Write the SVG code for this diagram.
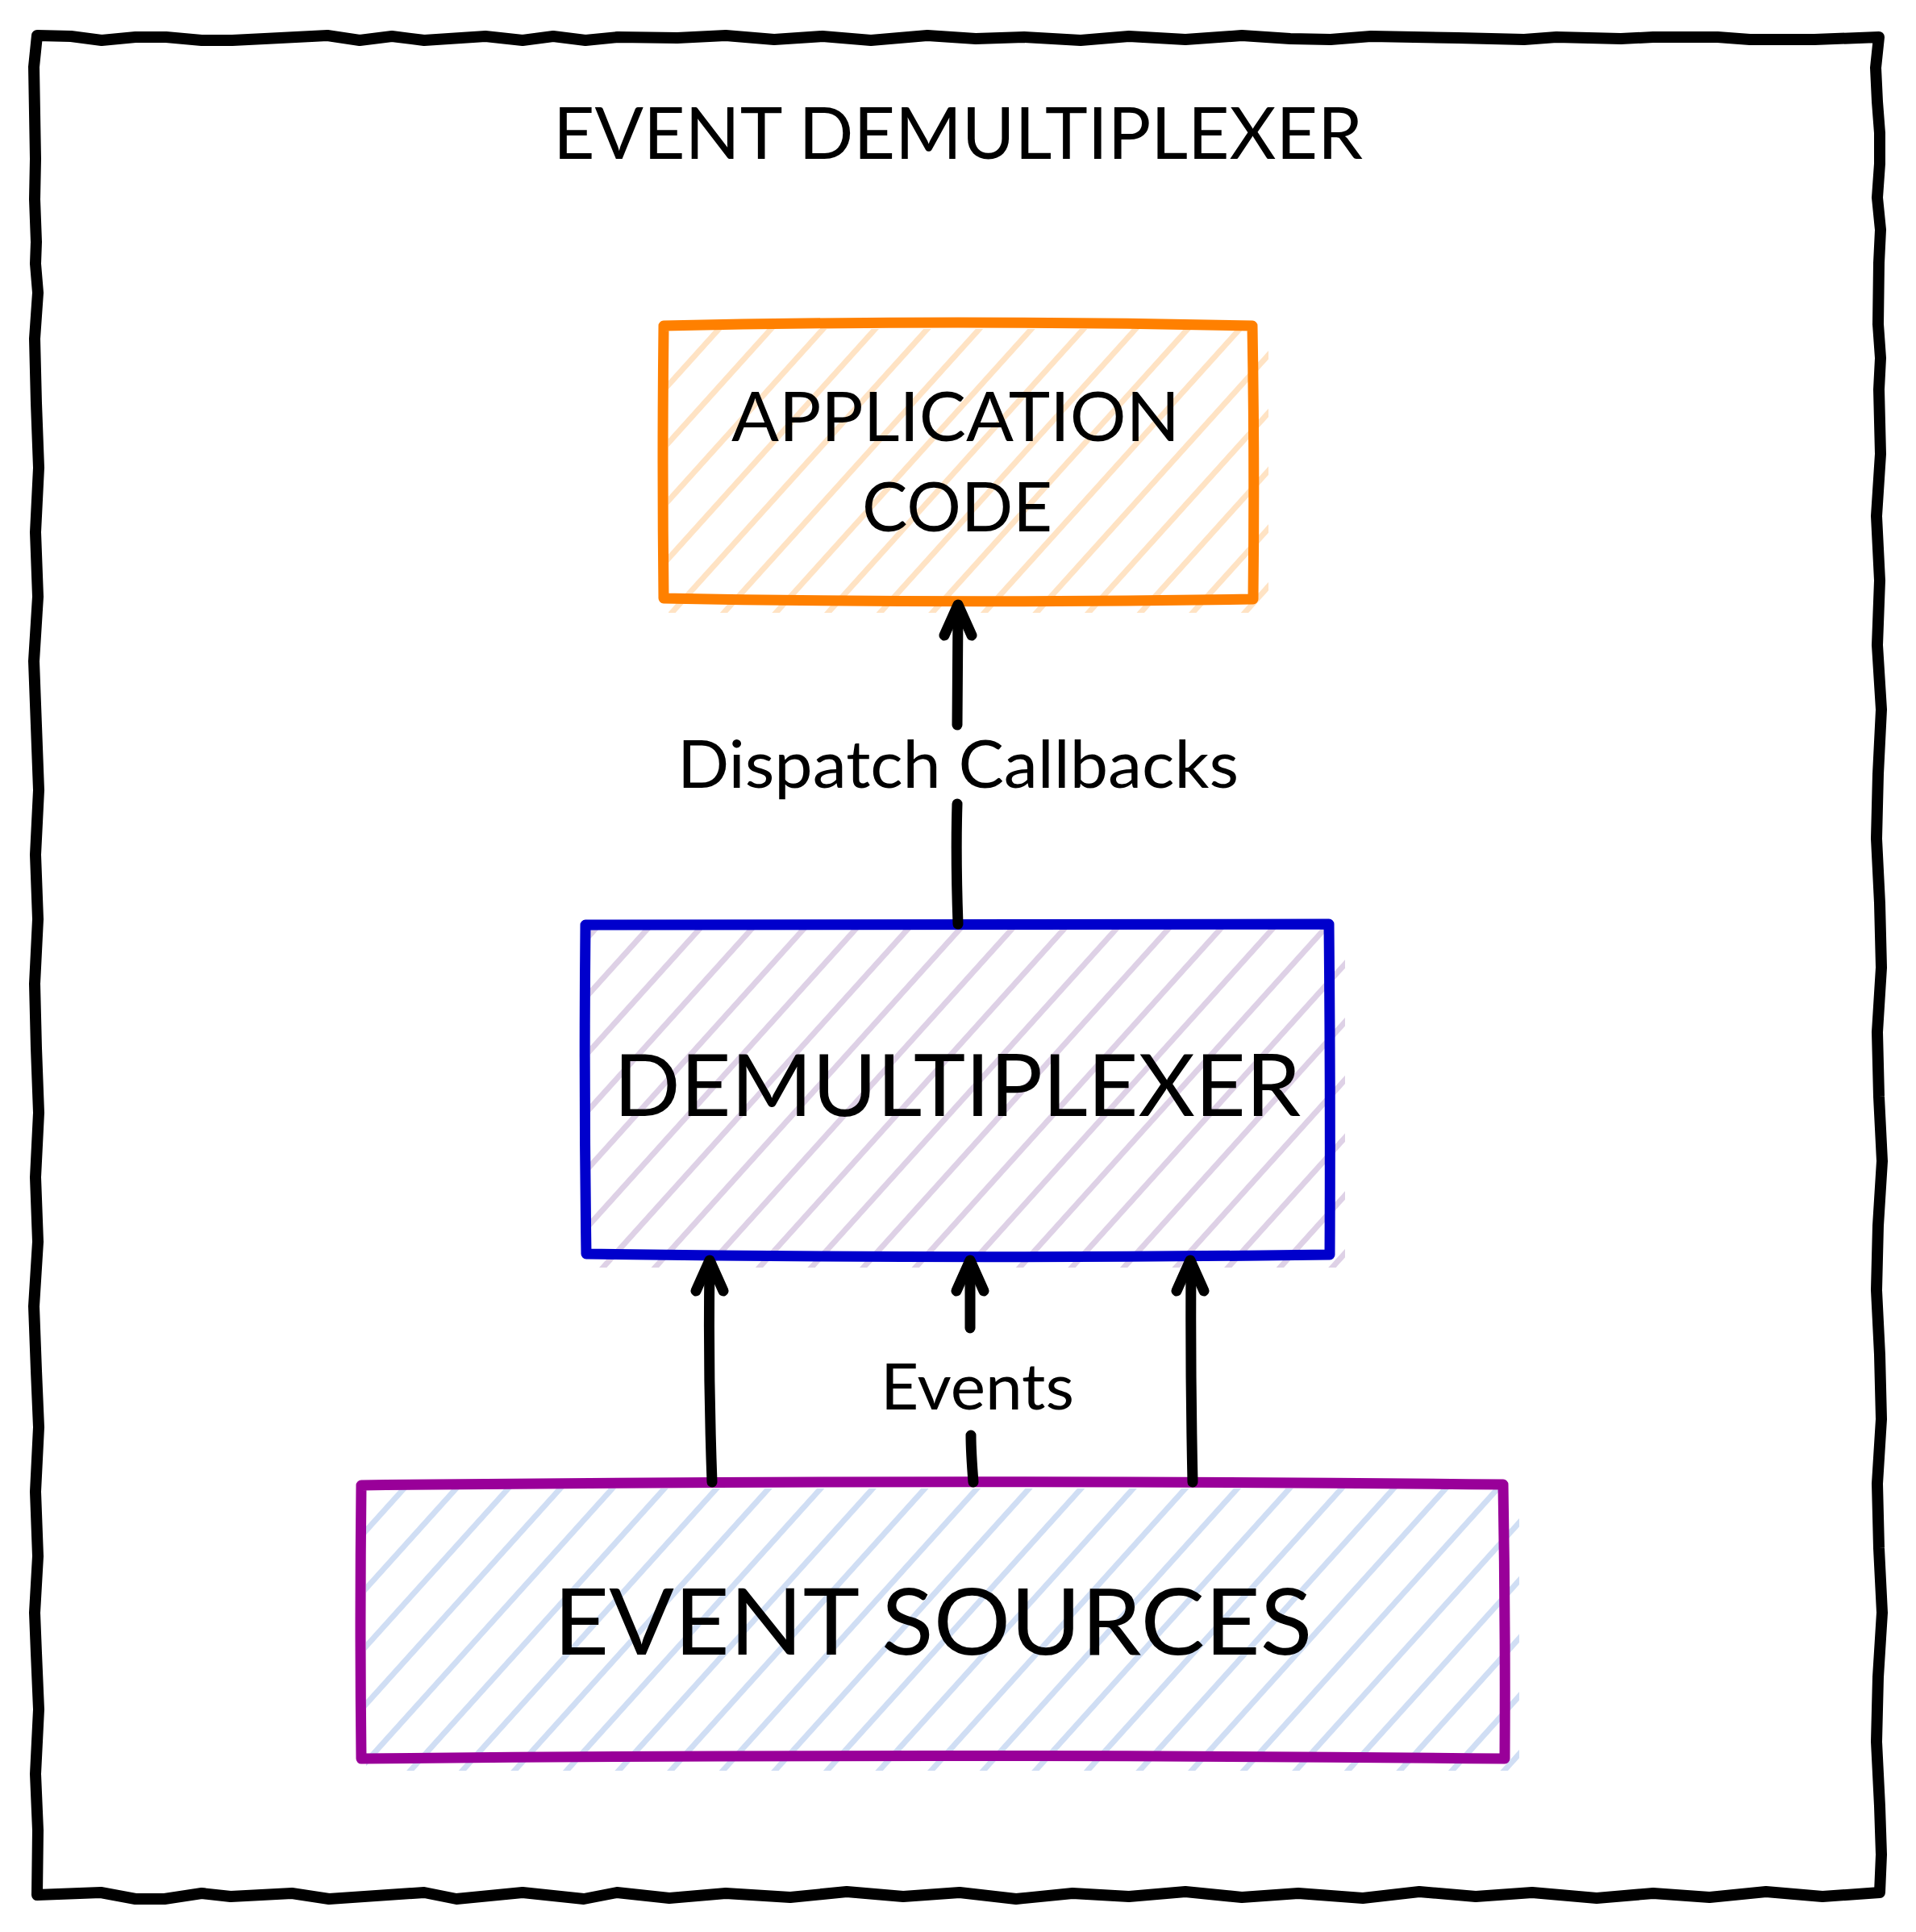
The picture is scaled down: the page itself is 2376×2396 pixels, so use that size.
<svg xmlns="http://www.w3.org/2000/svg" width="2376" height="2396" viewBox="0 0 2376 2396">
<style>
.frame{fill:none;stroke:#000;stroke-width:14;stroke-linejoin:round;stroke-linecap:round}
.box{fill:none;stroke-width:13;stroke-linejoin:round;stroke-linecap:round}
.txt{font-family:Lato,"Open Sans","Liberation Sans",sans-serif;fill:#000;text-anchor:middle;font-weight:400}
.conn path{fill:none;stroke:#000;stroke-width:13;stroke-linecap:round;stroke-linejoin:round}
</style>
<defs>
<pattern id="hOrange" patternUnits="userSpaceOnUse" width="48" height="48" patternTransform="rotate(42)"><rect x="20" y="0" width="7" height="48" fill="#ffe3c4"/></pattern>
<pattern id="hPurple" patternUnits="userSpaceOnUse" width="48" height="48" patternTransform="rotate(42)"><rect x="20" y="0" width="7" height="48" fill="#ded1e6"/></pattern>
<pattern id="hBlue" patternUnits="userSpaceOnUse" width="48" height="48" patternTransform="rotate(42)"><rect x="20" y="0" width="7" height="48" fill="#d0def4"/></pattern>
</defs>
<rect width="2376" height="2396" fill="#fff"/>
<g id="frame">
<path class="frame" d="M46,44 L88,45 L126,50 L168,46 L206,46 L250,50 L288,50 L328,48 L406,44 L446,50 L486,45 L526,50 L602,45 L648,50 L686,45 L726,50 L766,46 L840,47 L900,44 L960,49 L1020,45 L1080,50 L1150,44 L1210,48 L1270,46 L1340,50 L1400,45 L1470,49 L1540,44 L1600,48 L1650,49 L1700,45 L1808,47 L1890,49 L1930,46 L2010,48 L2050,46 L2130,46 L2170,49 L2250,49 L2330,46 L2326,84 L2328,126 L2331,165 L2331,203 L2328,245 L2332,285 L2330,326 L2329,402 L2332,444 L2330,483 L2332,563 L2327,640 L2331,720 L2328,800 L2333,880 L2329,960 L2327,1040 L2331,1120 L2333,1200 L2328,1280 L2330,1360 L2334,1440 L2329,1520 L2327,1600 L2331,1680 L2333,1760 L2328,1840 L2330,1920 L2334,2000 L2329,2080 L2327,2160 L2331,2240 L2333,2300 L2331,2347 L2260,2352 L2190,2346 L2120,2353 L2050,2348 L1980,2354 L1900,2347 L1830,2352 L1760,2346 L1690,2354 L1610,2348 L1540,2353 L1470,2346 L1400,2352 L1330,2348 L1260,2355 L1190,2347 L1120,2352 L1050,2346 L980,2353 L900,2348 L830,2354 L765,2347 L724,2355 L648,2347 L566,2355 L526,2347 L408,2355 L362,2348 L286,2352 L250,2348 L204,2355 L168,2355 L125,2347 L46,2350 L47,2270 L44,2200 L48,2120 L45,2050 L43,2000 L47,1930 L44,1850 L48,1770 L45,1700 L42,1620 L47,1540 L44,1460 L48,1380 L45,1300 L43,1220 L47,1140 L44,1060 L48,980 L45,900 L42,820 L47,740 L44,660 L48,580 L45,500 L43,420 L47,363 L44,327 L45,300 L43,247 L44,197 L42,83 Z"/>
<text class="txt" x="1188" y="197" font-size="90" textLength="1004" lengthAdjust="spacingAndGlyphs">EVENT DEMULTIPLEXER</text>
</g>
<g id="node-app">
<rect x="829" y="408" width="744" height="352" fill="url(#hOrange)"/>
<path class="box" stroke="#ff8000" d="M823,404 Q1188,396 1553,404 Q1556,574 1554,743 Q1188,749 823,742 Q821,574 823,404 Z"/>
<text class="txt" x="1185" y="547" font-size="85" textLength="556" lengthAdjust="spacingAndGlyphs">APPLICATION</text>
<text class="txt" x="1187" y="659" font-size="85" textLength="236" lengthAdjust="spacingAndGlyphs">CODE</text>
</g>
<g id="node-demux">
<rect x="732" y="1152" width="936" height="420" fill="url(#hPurple)"/>
<path class="box" stroke="#0000cc" d="M726,1147 Q1188,1145 1648,1146 Q1650,1352 1649,1556 Q1188,1562 727,1555 Q724,1352 726,1147 Z"/>
<text class="txt" x="1187" y="1384" font-size="107" textLength="852" lengthAdjust="spacingAndGlyphs">DEMULTIPLEXER</text>
</g>
<g id="node-sources">
<rect x="454" y="1846" width="1430" height="350" fill="url(#hBlue)"/>
<path class="box" stroke="#990099" d="M448,1842 Q1156,1834 1864,1841 Q1867,2011 1866,2181 Q1156,2174 448,2181 Q446,2011 448,1842 Z"/>
<text class="txt" x="1157" y="2052" font-size="114" textLength="941" lengthAdjust="spacingAndGlyphs">EVENT SOURCES</text>
</g>
<g id="connectors" class="conn">
<path d="M1188,1146 Q1185,1060 1187,997"/>
<path d="M1187,899 L1188,758"/>
<path d="M1171,788 L1188,750 L1205,788"/>
<path d="M883,1838 Q878,1700 880,1570"/>
<path d="M863,1601 L880,1563 L897,1601"/>
<path d="M1207,1838 Q1204,1800 1204,1780"/>
<path d="M1203,1647 L1203,1570"/>
<path d="M1186,1601 L1203,1563 L1220,1601"/>
<path d="M1479,1838 Q1476,1700 1477,1570"/>
<path d="M1459,1601 L1476,1563 L1493,1601"/>
<text class="txt" x="1188" y="977" font-size="81" textLength="696" lengthAdjust="spacingAndGlyphs">Dispatch Callbacks</text>
<text class="txt" x="1212" y="1748" font-size="79" textLength="240" lengthAdjust="spacingAndGlyphs">Events</text>
</g>
</svg>
